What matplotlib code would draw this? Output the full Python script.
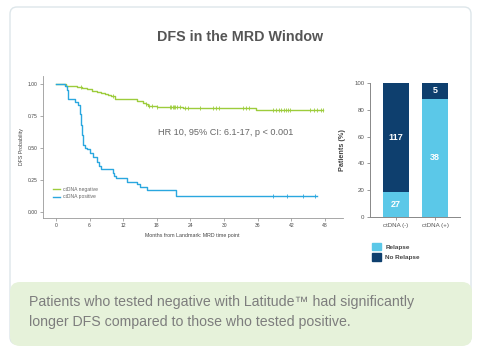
import numpy as np
import matplotlib
matplotlib.use("Agg")
import matplotlib.pyplot as plt
from matplotlib.patches import FancyBboxPatch, Patch

plt.rcParams["font.family"] = ["Liberation Sans", "DejaVu Sans"]

# ---- data ----
# Kaplan-Meier steps: (event time in months, survival after the step)
neg_t = [1.8, 3.0, 3.7, 4.6, 5.5, 6.4, 7.3, 8.0, 8.7, 9.3, 9.9, 10.5,
         14.4, 15.5, 16.0, 16.5, 18.0, 20.9, 22.7, 35.7]
neg_s = [0.985, 0.98, 0.975, 0.965, 0.955, 0.945, 0.935, 0.925, 0.918, 0.91,
         0.90, 0.88, 0.866, 0.853, 0.84, 0.828, 0.82, 0.815, 0.81, 0.795]
neg_end = 47.7
neg_cens = [4.5, 10.2, 16.0, 16.6, 17.2, 18.0, 20.3, 20.6, 20.9, 21.1, 21.3,
            21.6, 22.1, 23.0, 23.6, 25.7, 28.0, 28.5, 29.0, 33.3, 33.9, 34.4,
            38.8, 39.3, 39.8, 40.2, 40.6, 41.0, 41.4, 41.8, 45.4, 46.0, 46.6,
            47.2, 47.7]

pos_t = [1.6, 1.9, 2.2, 3.4, 4.0, 4.3, 4.45, 4.6, 4.75, 5.2, 5.5, 6.0, 6.6,
         7.4, 7.7, 8.1, 10.1, 10.4, 10.7, 12.6, 14.4, 15.0, 16.3, 21.4]
pos_s = [0.98, 0.95, 0.88, 0.86, 0.835, 0.76, 0.68, 0.60, 0.52, 0.50, 0.49,
         0.455, 0.43, 0.39, 0.357, 0.33, 0.30, 0.28, 0.26, 0.233, 0.215,
         0.194, 0.168, 0.12]
pos_end = 46.5
pos_cens = [38.7, 41.2, 44.1, 46.2]

hr_text = "HR 10, 95% CI: 6.1-17, p < 0.001"

# bar chart: patient counts
groups = ["ctDNA (-)", "ctDNA (+)"]
relapse = np.array([27, 38])
no_relapse = np.array([117, 5])

title = "DFS in the MRD Window"
caption = ["Patients who tested negative with Latitude\u2122 had significantly",
           "longer DFS compared to those who tested positive."]

GREEN = "#9dcc3c"
BLUE = "#2aa7df"
LIGHT = "#5bc8e8"
DARK = "#0e3f6e"

W, H = 480, 356
fig = plt.figure(figsize=(4.8, 3.56), dpi=100)


def px_axes(l, t, r, b):
    a = fig.add_axes([l / W, 1 - b / H, (r - l) / W, (b - t) / H])
    a.set_facecolor("none")
    a.set_zorder(3)
    return a


# card + green caption box (in inches)
fig.patches.append(FancyBboxPatch((0.10, 0.12), 4.61, 3.37,
                                  boxstyle="round,pad=0,rounding_size=0.07",
                                  transform=fig.dpi_scale_trans, fc="white",
                                  ec="#dde6ea", lw=1.0, zorder=-5))
fig.patches.append(FancyBboxPatch((0.10, 0.10), 4.62, 0.64,
                                  boxstyle="round,pad=0,rounding_size=0.1",
                                  transform=fig.dpi_scale_trans, fc="#e6f2da",
                                  ec="none", zorder=-4))

fig.text(240 / W, 1 - 37 / H, title, ha="center", va="center", fontsize=10.3,
         fontweight="bold", color="#555555")
fig.text(29 / W, 1 - 302 / H, caption[0], ha="left", va="center",
         fontsize=10.2, color="#7d7d7d")
fig.text(29 / W, 1 - 322 / H, caption[1], ha="left", va="center",
         fontsize=10.2, color="#7d7d7d")

# ---- KM panel ----
ax = px_axes(42.7, 76, 342.7, 218)


def km(t, s, end):
    x = np.r_[0, t, end]
    y = np.r_[1.0, s, s[-1]]
    return x, y


def surv_at(t, s, times):
    out = []
    for c in times:
        v = 1.0
        for ti, si in zip(t, s):
            if ti <= c:
                v = si
        out.append(v)
    return out


x, y = km(neg_t, neg_s, neg_end)
ax.step(x, y, where="post", color=GREEN, lw=1.0, label="ctDNA negative")
ax.plot(neg_cens, surv_at(neg_t, neg_s, neg_cens), ls="none", marker="|",
        ms=3, mew=0.6, color=GREEN)
x, y = km(pos_t, pos_s, pos_end)
ax.step(x, y, where="post", color=BLUE, lw=1.0, label="ctDNA positive")
ax.plot(pos_cens, surv_at(pos_t, pos_s, pos_cens), ls="none", marker="|",
        ms=3, mew=0.6, color=BLUE)

ax.set_xlim(-2.37, 51.16)
ax.set_ylim(-0.049, 1.06)
ax.set_xticks(np.arange(0, 49, 6))
ax.set_yticks([0, 0.25, 0.5, 0.75, 1.0])
ax.set_yticklabels(["0.00", "0.25", "0.50", "0.75", "1.00"])
ax.tick_params(labelsize=3.6, length=2, width=0.5, colors="#888888",
               labelcolor="#444444", pad=1.5)
for s in ["top", "right"]:
    ax.spines[s].set_visible(False)
for s in ["left", "bottom"]:
    ax.spines[s].set_color("#999999")
    ax.spines[s].set_linewidth(0.6)
ax.set_xlabel("Months from Landmark: MRD time point", fontsize=3.8,
              color="#444444", labelpad=4)
ax.set_ylabel("DFS Probability", fontsize=3.8, color="#444444", labelpad=3)
ax.text(30.3, 0.615, hr_text, ha="center", va="center", fontsize=6.6,
        color="#666666")
ax.legend(loc="lower left", bbox_to_anchor=(0.02, 0.1), frameon=False,
          fontsize=3.6, handlelength=1.4, labelspacing=0.5,
          labelcolor="#666666", handletextpad=0.6)

# ---- stacked percentage bars ----
bx = px_axes(370, 83, 460, 217)
tot = relapse + no_relapse
rel_pct = relapse / tot * 100
no_pct = no_relapse / tot * 100
pos = np.arange(len(groups))
bx.bar(pos, rel_pct, width=0.66, color=LIGHT, label="Relapse")
bx.bar(pos, no_pct, bottom=rel_pct, width=0.66, color=DARK,
       label="No Relapse")
for i in range(len(groups)):
    bx.text(pos[i], rel_pct[i] / 2, str(relapse[i]), ha="center",
            va="center", color="white", fontsize=6.5, fontweight="bold")
    bx.text(pos[i], rel_pct[i] + no_pct[i] / 2, str(no_relapse[i]),
            ha="center", va="center", color="white", fontsize=6.5,
            fontweight="bold")
bx.set_xlim(-0.667, 1.64)
bx.set_ylim(0, 100)
bx.set_xticks(pos)
bx.set_xticklabels(groups)
bx.set_yticks(np.arange(0, 101, 20))
bx.tick_params(labelsize=4.4, length=2.5, width=0.6, colors="#888888",
               labelcolor="#555555", pad=1.5)
for s in ["top", "right"]:
    bx.spines[s].set_visible(False)
for s in ["left", "bottom"]:
    bx.spines[s].set_color("#888888")
    bx.spines[s].set_linewidth(0.7)
bx.set_ylabel("Patients (%)", fontsize=5.2, fontweight="bold",
              color="#444444", labelpad=6)
bx.legend(handles=[Patch(color=LIGHT, label="Relapse"),
                   Patch(color=DARK, label="No Relapse")],
          loc="upper left", bbox_to_anchor=(366 / W, 1 - 237 / H),
          bbox_transform=fig.transFigure, frameon=False,
          prop={"size": 4.6, "weight": "bold"}, labelcolor="#444444",
          handlelength=1.5, handleheight=1.4, labelspacing=0.5,
          handletextpad=0.6)

fig.savefig("out.png", dpi=100)
